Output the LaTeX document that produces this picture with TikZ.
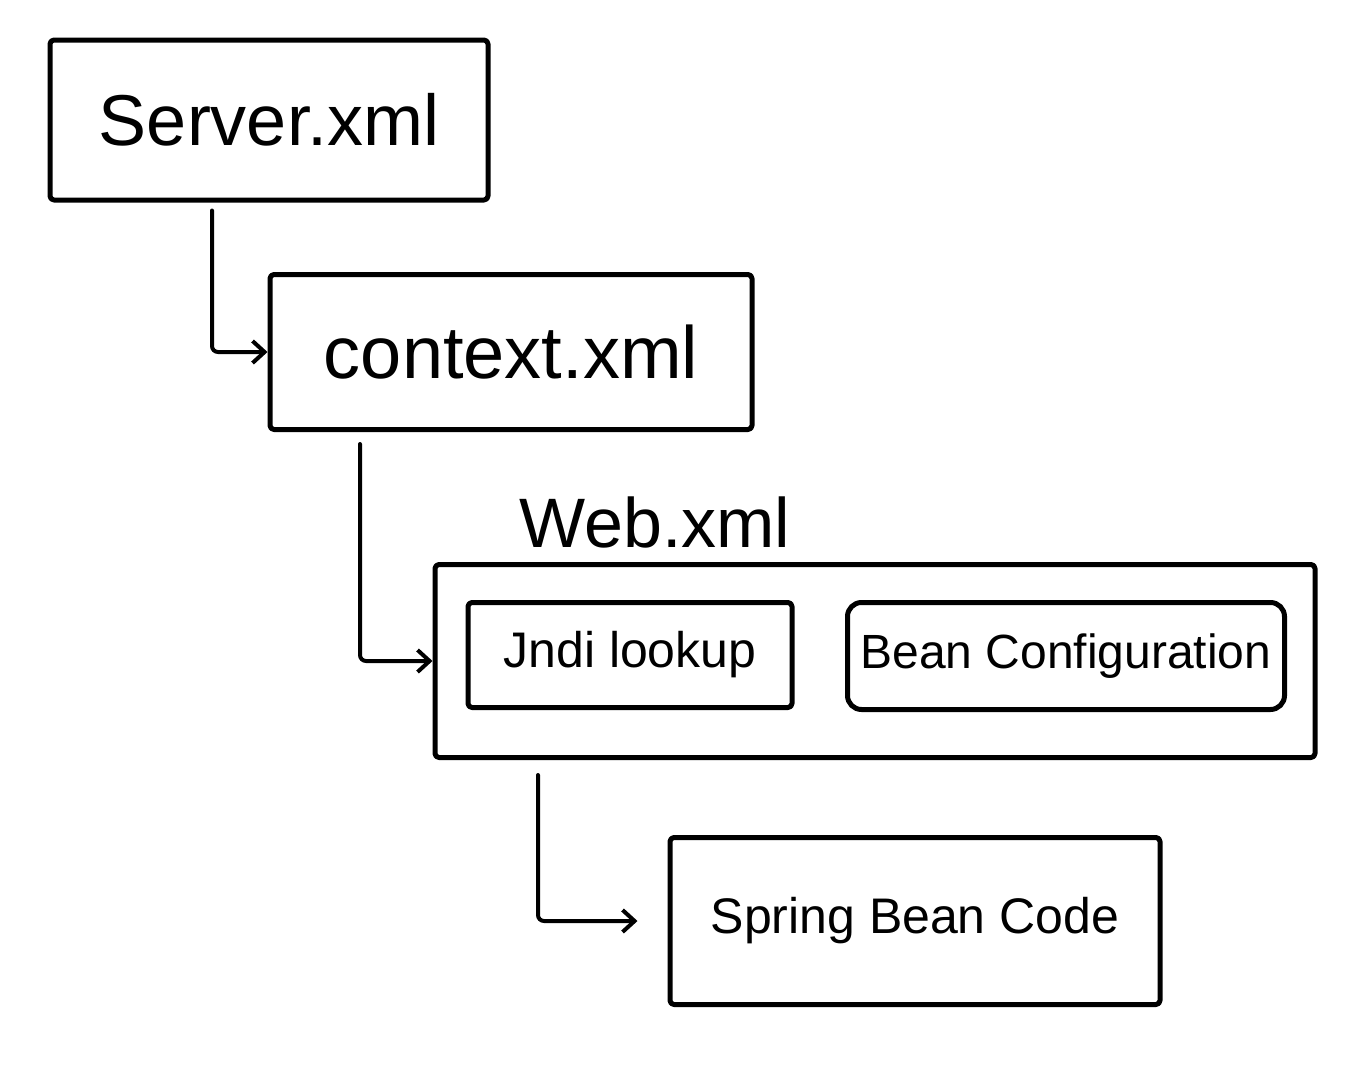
\documentclass[tikz,border=0pt]{standalone}
\usepackage{fontspec}
\setmainfont{Liberation Sans}
\usetikzlibrary{arrows.meta}
\begin{document}
\begin{tikzpicture}[x=1pt,y=-1pt,
  box/.style={draw=black,line width=5pt,rounded corners=4pt,inner sep=0pt,line join=round},
  lbl/.style={inner sep=0pt},
  conn/.style={draw=black,line width=4pt,line cap=round,line join=round,rounded corners=6pt,
    -{Straight Barb[length=12pt,width=22pt,line width=4pt]}},
  fs/.style={font=\fontsize{#1}{#1}\selectfont}]
\useasboundingbox[fill=white] (0,0) rectangle (1358,1068);
\node[box,minimum width=438pt,minimum height=160pt,fs=72] (server) at (269,120) {Server.xml};
\node[box,minimum width=482pt,minimum height=155pt,fs=74] (context) at (511,352) {context.xml};
\node[lbl,fs=70] (weblbl) at (655,522) {Web.xml};
\node[box,minimum width=880pt,minimum height=193pt] (web) at (875,661) {};
\node[box,minimum width=324pt,minimum height=105pt,fs=50] (jndi) at (630,655) {Jndi lookup};
\node[box,minimum width=437pt,minimum height=107pt,fs=48,rounded corners=14pt] (bean) at (1066,656) {Bean Configuration};
\node[box,minimum width=490pt,minimum height=167pt,fs=50] (spring) at (915,921) {Spring Bean Code};
\draw[conn] ([xshift=-57pt,yshift=-8pt]server.south) |- (context.west);
\draw[conn] ([xshift=-151pt,yshift=-12pt]context.south) |- (web.west);
\draw[conn] ([xshift=-337pt,yshift=-15pt]web.south) |- ([xshift=-30pt]spring.west);
\end{tikzpicture}
\end{document}
